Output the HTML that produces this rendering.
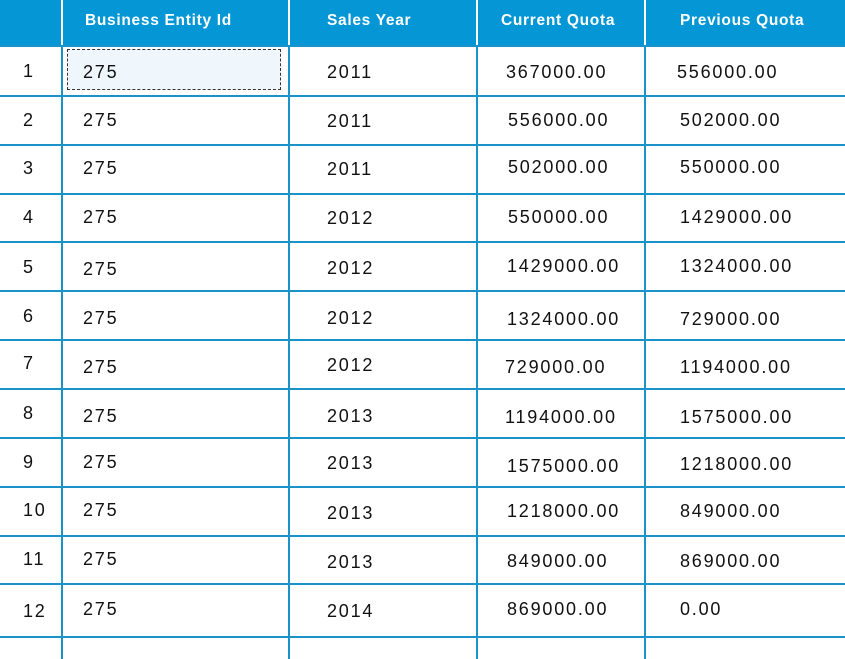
<!DOCTYPE html>
<html><head><meta charset="utf-8"><style>
body{margin:0;width:845px;height:659px;overflow:hidden;background:#fff;font-family:"Liberation Sans",sans-serif;position:relative}
.hd{position:absolute;left:0;top:0;width:845px;height:45px;background:#0597d5}
.hs{position:absolute;top:0;height:45px;width:2px;background:#fff}
.h{position:absolute;top:11px;color:#fff;font-weight:bold;font-size:15.5px;line-height:20px;letter-spacing:0.7px}
.hl{position:absolute;left:0;width:845px;height:2px;background:#1a93c9}
.vl{position:absolute;top:45px;height:614px;width:2px;background:#1a93c9}
.t{position:absolute;font-size:18px;color:#111;line-height:20px;letter-spacing:1.8px}
.sel{position:absolute;left:67px;top:49px;width:212px;height:39px;border:1.5px dashed #333;background:#f0f7fc}
</style></head><body>
<div class="hd"></div>
<div class="hs" style="left:61px"></div><div class="hs" style="left:288px"></div><div class="hs" style="left:476px"></div><div class="hs" style="left:644px"></div>
<div class="h" style="left:85px">Business Entity Id</div>
<div class="h" style="left:327px">Sales Year</div>
<div class="h" style="left:501px">Current Quota</div>
<div class="h" style="left:680px">Previous Quota</div>
<div class="hl" style="top:45px"></div>
<div class="hl" style="top:95px"></div>
<div class="hl" style="top:144px"></div>
<div class="hl" style="top:193px"></div>
<div class="hl" style="top:241px"></div>
<div class="hl" style="top:290px"></div>
<div class="hl" style="top:339px"></div>
<div class="hl" style="top:388px"></div>
<div class="hl" style="top:437px"></div>
<div class="hl" style="top:486px"></div>
<div class="hl" style="top:535px"></div>
<div class="hl" style="top:583px"></div>
<div class="hl" style="top:636px"></div>
<div class="vl" style="left:61px"></div><div class="vl" style="left:288px"></div><div class="vl" style="left:476px"></div><div class="vl" style="left:644px"></div>
<div class="sel"></div>

<div class="t" style="left:23px;top:61px">1</div><div class="t" style="left:83px;top:62px">275</div><div class="t" style="left:327px;top:62px">2011</div><div class="t" style="left:506px;top:62px">367000.00</div><div class="t" style="left:677px;top:62px">556000.00</div>
<div class="t" style="left:23px;top:110px">2</div><div class="t" style="left:83px;top:110px">275</div><div class="t" style="left:327px;top:111px">2011</div><div class="t" style="left:508px;top:110px">556000.00</div><div class="t" style="left:680px;top:110px">502000.00</div>
<div class="t" style="left:23px;top:158px">3</div><div class="t" style="left:83px;top:158px">275</div><div class="t" style="left:327px;top:159px">2011</div><div class="t" style="left:508px;top:157px">502000.00</div><div class="t" style="left:680px;top:157px">550000.00</div>
<div class="t" style="left:23px;top:207px">4</div><div class="t" style="left:83px;top:207px">275</div><div class="t" style="left:327px;top:208px">2012</div><div class="t" style="left:508px;top:207px">550000.00</div><div class="t" style="left:680px;top:207px">1429000.00</div>
<div class="t" style="left:23px;top:257px">5</div><div class="t" style="left:83px;top:259px">275</div><div class="t" style="left:327px;top:258px">2012</div><div class="t" style="left:507px;top:256px">1429000.00</div><div class="t" style="left:680px;top:256px">1324000.00</div>
<div class="t" style="left:23px;top:306px">6</div><div class="t" style="left:83px;top:308px">275</div><div class="t" style="left:327px;top:308px">2012</div><div class="t" style="left:507px;top:309px">1324000.00</div><div class="t" style="left:680px;top:309px">729000.00</div>
<div class="t" style="left:23px;top:353px">7</div><div class="t" style="left:83px;top:357px">275</div><div class="t" style="left:327px;top:355px">2012</div><div class="t" style="left:505px;top:357px">729000.00</div><div class="t" style="left:680px;top:357px">1194000.00</div>
<div class="t" style="left:23px;top:403px">8</div><div class="t" style="left:83px;top:406px">275</div><div class="t" style="left:327px;top:406px">2013</div><div class="t" style="left:505px;top:407px">1194000.00</div><div class="t" style="left:680px;top:407px">1575000.00</div>
<div class="t" style="left:23px;top:452px">9</div><div class="t" style="left:83px;top:452px">275</div><div class="t" style="left:327px;top:453px">2013</div><div class="t" style="left:507px;top:456px">1575000.00</div><div class="t" style="left:680px;top:454px">1218000.00</div>
<div class="t" style="left:23px;top:500px">10</div><div class="t" style="left:83px;top:500px">275</div><div class="t" style="left:327px;top:503px">2013</div><div class="t" style="left:507px;top:501px">1218000.00</div><div class="t" style="left:680px;top:501px">849000.00</div>
<div class="t" style="left:23px;top:549px">11</div><div class="t" style="left:83px;top:549px">275</div><div class="t" style="left:327px;top:552px">2013</div><div class="t" style="left:507px;top:551px">849000.00</div><div class="t" style="left:680px;top:551px">869000.00</div>
<div class="t" style="left:23px;top:601px">12</div><div class="t" style="left:83px;top:599px">275</div><div class="t" style="left:327px;top:601px">2014</div><div class="t" style="left:507px;top:599px">869000.00</div><div class="t" style="left:680px;top:599px">0.00</div>
</body></html>
